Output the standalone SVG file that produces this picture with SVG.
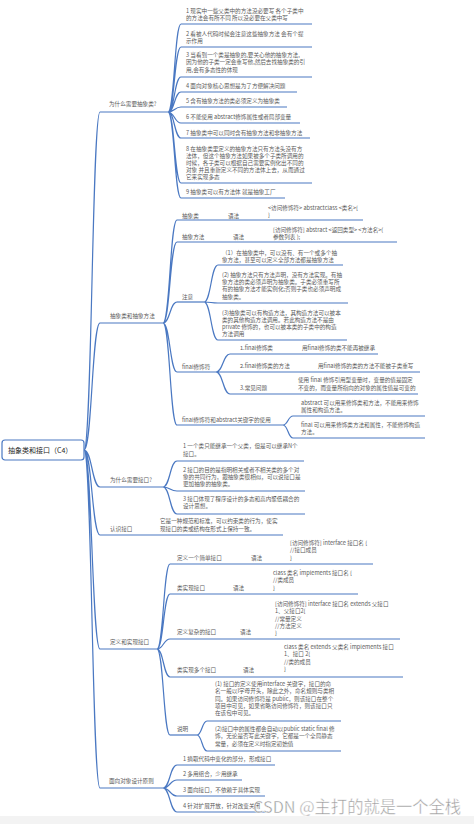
<svg xmlns="http://www.w3.org/2000/svg" width="474" height="824" viewBox="0 0 474 824">
<style>
text{font-family:"Noto Sans CJK SC","Noto Sans",sans-serif;font-size:5.6px;fill:#595959}
.root{font-size:7px;fill:#262626}
.ln{fill:none;stroke:#4a78c2;stroke-width:1.2}
.wm{font-family:"Noto Sans CJK SC","Noto Sans",sans-serif;font-size:16.5px;fill:#9b9b9b;stroke:#ffffff;stroke-width:0.4}
</style>
<rect x="0" y="0" width="474" height="824" fill="#ffffff"/>
<rect x="0" y="816" width="474" height="8" fill="#f3f3f3"/>
<g id="connectors" class="ln">
<path d="M84 450C92 450 92 112 100 112M84 450C92 450 92 323 100 323M84 450C92 450 92 487 100 487M84 450C92 450 92 535 100 535M84 450C92 450 92 649 100 649M84 450C92 450 92 788 100 788"/>
<path d="M168 112C174.5 112 174.5 24 181 24M168 112C174.5 112 174.5 47 181 47M168 112C174.5 112 174.5 77 181 77M168 112C174.5 112 174.5 92 181 92M168 112C174.5 112 174.5 107 181 107M168 112C174.5 112 174.5 123 181 123M168 112C174.5 112 174.5 138 181 138M168 112C174.5 112 174.5 183 181 183M168 112C174.5 112 174.5 198 181 198"/>
<path d="M163 323C170 323 170 220 177 220M163 323C170 323 170 242 177 242M163 323C170 323 170 302 177 302M163 323C170 323 170 372 177 372M163 323C170 323 170 425 177 425"/>
<path d="M204 302C211 302 211 265 218 265M204 302C211 302 211 303 218 303M204 302C211 302 211 340 218 340"/>
<path d="M216 372C223 372 223 354 230 354M216 372C223 372 223 372 230 372M216 372C223 372 223 394 230 394"/>
<path d="M283 425C288 425 288 416 293 416M283 425C288 425 288 438 293 438"/>
<path d="M163 487C170 487 170 461 177 461M163 487C170 487 170 491 177 491M163 487C170 487 170 514 177 514"/>
<path d="M157 649C163.5 649 163.5 564 170 564M157 649C163.5 649 163.5 594 170 594M157 649C163.5 649 163.5 639 170 639M157 649C163.5 649 163.5 677 170 677M157 649C163.5 649 163.5 735 170 735"/>
<path d="M197 735C202 735 202 721 207 721M197 735C202 735 202 751 207 751"/>
<path d="M163 788C170 788 170 765 177 765M163 788C170 788 170 780 177 780M163 788C170 788 170 796 177 796M163 788C170 788 170 812 177 812"/>
</g>
<g id="root"><rect x="2" y="440" width="82" height="20" rx="3" fill="#ffffff" stroke="#4a78c2" stroke-width="1.2"/><text class="root" x="8" y="453">抽象类和接口（C4）</text></g>
<g id="n-a"><path class="ln" d="M100 112H168"/><text x="109" y="106">为什么需要抽象类?</text></g>
<g id="n-a1"><path class="ln" d="M181 24H312"/><text x="186" y="13">1 现实中一些父类中的方法没必要写  各个子类中</text><text x="186" y="20">的方法会有所不同 所以没必要在父类中写</text></g>
<g id="n-a2"><path class="ln" d="M181 47H312"/><text x="186" y="36">2 看被人代码时候会注意这些抽象方法 会有个提</text><text x="186" y="43">示作用</text></g>
<g id="n-a3"><path class="ln" d="M181 77H312"/><text x="186" y="57">3 当看到一个类是抽象的,要关心他的抽象方法,</text><text x="186" y="64">因为他的子类一定会重写他,然后去找抽象类的引</text><text x="186" y="72">用,会有多态性的体现</text></g>
<g id="n-a4"><path class="ln" d="M181 92H297"/><text x="186" y="88">4 面向对象核心思想是为了方便解决问题</text></g>
<g id="n-a5"><path class="ln" d="M181 107H287"/><text x="186" y="103">5 含有抽象方法的类必须定义为抽象类</text></g>
<g id="n-a6"><path class="ln" d="M181 123H300"/><text x="186" y="119">6 不能使用 abstract修饰属性或者局部变量</text></g>
<g id="n-a7"><path class="ln" d="M181 138H310"/><text x="186" y="135">7 抽象类中可以同时含有抽象方法和非抽象方法</text></g>
<g id="n-a8"><path class="ln" d="M181 183H312"/><text x="186" y="151">8 在抽象类里定义的抽象方法只有方法头没有方</text><text x="186" y="158">法体，但这个抽象方法如果被多个子类所调用的</text><text x="186" y="165">时候，各子类可以根据自己需要实例化出不同的</text><text x="186" y="172">对象 并且重新定义不同的方法体上去，从而通过</text><text x="186" y="179">它来实现多态</text></g>
<g id="n-a9"><path class="ln" d="M181 198H285"/><text x="186" y="194">9 抽象类可以有方法体 就是抽象工厂</text></g>
<g id="n-b"><path class="ln" d="M100 323H163"/><text x="110" y="318">抽象类和抽象方法</text></g>
<g id="n-b1"><path class="ln" d="M177 220H363"/><text x="182" y="218">抽象类</text><text x="228" y="218">语法</text><text x="268" y="210">&lt;访问修饰符&gt; abstractclass &lt;类名&gt;{</text><text x="268" y="217">}</text></g>
<g id="n-b2"><path class="ln" d="M177 242H397"/><text x="182" y="239">抽象方法</text><text x="233" y="239">语法</text><text x="273" y="232">[访问修饰符] abstract &lt;返回类型&gt; &lt;方法名&gt;(</text><text x="273" y="239">参数列表 );</text></g>
<g id="n-b3"><path class="ln" d="M177 302H204"/><text x="182" y="299">注意</text></g>
<g id="n-b3a"><path class="ln" d="M218 265H343"/><text x="222" y="255">（1）在抽象类中，可以没有、有一个或多个抽</text><text x="222" y="262">象方法，甚至可以定义全部方法都是抽象方法</text></g>
<g id="n-b3b"><path class="ln" d="M218 303H348"/><text x="222" y="277">(2) 抽象方法只有方法声明，没有方法实现。有抽</text><text x="222" y="284">象方法的类必须声明为抽象类。子类必须重写所</text><text x="222" y="291">有的抽象方法才能实例化;否则子类也必须声明成</text><text x="222" y="299">抽象类。</text></g>
<g id="n-b3c"><path class="ln" d="M218 340H347"/><text x="222" y="315">(3)抽象类可以有构造方法，其构造方法可以被本</text><text x="222" y="322">类的其他构造方法调用。若此构造方法不是由</text><text x="222" y="329">private 修饰的，也可以被本类的子类中的构造</text><text x="222" y="336">方法调用</text></g>
<g id="n-b4"><path class="ln" d="M177 372H216"/><text x="182" y="369">final修饰符</text></g>
<g id="n-b4a"><path class="ln" d="M230 354H378"/><text x="240" y="350">1.final修饰类</text><text x="302" y="350">用final修饰的类不能再被继承</text></g>
<g id="n-b4b"><path class="ln" d="M230 372H420"/><text x="240" y="368">2.final修饰类的方法</text><text x="318" y="368">用final修饰的类的方法不能被子类重写</text></g>
<g id="n-b4c"><path class="ln" d="M230 394H418"/><text x="240" y="390">3.常见问题</text><text x="298" y="382">使用 final 修饰引用型变量时，变量的值是固定</text><text x="298" y="390">不变的，而变量所指向的对象的属性值是可变的</text></g>
<g id="n-b5"><path class="ln" d="M177 425H283"/><text x="182" y="422">final修饰符和abstract关键字的使用</text></g>
<g id="n-b5a"><path class="ln" d="M293 416H425"/><text x="301" y="405">abstract 可以用来修饰类和方法，不能用来修饰</text><text x="301" y="412">属性和构造方法。</text></g>
<g id="n-b5b"><path class="ln" d="M293 438H425"/><text x="301" y="427">final 可以用来修饰类方法和属性，不能修饰构造</text><text x="301" y="434">方法。</text></g>
<g id="n-c"><path class="ln" d="M100 487H163"/><text x="110" y="482">为什么需要接口?</text></g>
<g id="n-c1"><path class="ln" d="M177 461H304"/><text x="183" y="448">1 一个类只能继承一个父类，但是可以继承N个</text><text x="183" y="456">接口。</text></g>
<g id="n-c2"><path class="ln" d="M177 491H305"/><text x="183" y="472">2 接口的目的是指明相关或者不相关类的多个对</text><text x="183" y="479">象的共同行为，跟抽象类很相似，可以说接口是</text><text x="183" y="486">更加抽象的抽象类。</text></g>
<g id="n-c3"><path class="ln" d="M177 514H305"/><text x="183" y="501">3 接口体现了程序设计的多态和高内聚低耦合的</text><text x="183" y="508">设计思想。</text></g>
<g id="n-d"><path class="ln" d="M100 535H283"/><text x="110" y="531">认识接口</text><text x="160" y="523">它是一种规范和标准，可以约束类的行为，使实</text><text x="160" y="531">现接口的类或结构在形式上保持一致。</text></g>
<g id="n-e"><path class="ln" d="M100 649H157"/><text x="110" y="644">定义和实现接口</text></g>
<g id="n-e1"><path class="ln" d="M170 564H373"/><text x="177" y="560">定义一个简单接口</text><text x="251" y="560">语法</text><text x="290" y="545">[访问修饰符] interface 接口名 {</text><text x="290" y="552">//接口成员</text><text x="290" y="560">}</text></g>
<g id="n-e2"><path class="ln" d="M170 594H358"/><text x="177" y="590">类实现接口</text><text x="233" y="590">语法</text><text x="273" y="575">class 类名 implements 接口名 {</text><text x="273" y="582">//类成员</text><text x="273" y="590">}</text></g>
<g id="n-e3"><path class="ln" d="M170 639H400"/><text x="177" y="634">定义复杂的接口</text><text x="240" y="634">语法</text><text x="275" y="606">[访问修饰符] interface 接口名 extends 父接口</text><text x="275" y="613">1、父接口2{</text><text x="275" y="621">//常量定义</text><text x="275" y="628">//方法定义</text><text x="275" y="635">}</text></g>
<g id="n-e4"><path class="ln" d="M170 677H403"/><text x="177" y="672">类实现多个接口</text><text x="243" y="672">语法</text><text x="284" y="649">class 类名 extends 父类名 implements 接口</text><text x="284" y="656">1、接口 2{</text><text x="284" y="664">//类的成员</text><text x="284" y="671">}</text></g>
<g id="n-e5"><path class="ln" d="M170 735H197"/><text x="177" y="731">说明</text></g>
<g id="n-e5a"><path class="ln" d="M207 721H341"/><text x="215" y="686">(1) 接口的定义使用interface 关键字，接口的命</text><text x="215" y="693">名一般以I字母开头，除此之外，命名规则与类相</text><text x="215" y="701">同。如果访问修饰符是 public，则该接口在整个</text><text x="215" y="708">项目中可见，如果省略访问修饰符，则该接口只</text><text x="215" y="715">在该包中可见。</text></g>
<g id="n-e5b"><path class="ln" d="M207 751H341"/><text x="215" y="731">(2)接口中的属性都会自动以public static final 修</text><text x="215" y="738">饰，无论是否写此关键字，它都是一个全局静态</text><text x="215" y="746">常量，必须在定义时指定初始值</text></g>
<g id="n-f"><path class="ln" d="M100 788H163"/><text x="109" y="783">面向对象设计原则</text></g>
<g id="n-f1"><path class="ln" d="M177 765H275"/><text x="183" y="761">1 摘取代码中变化的部分，形成接口</text></g>
<g id="n-f2"><path class="ln" d="M177 780H242"/><text x="183" y="776">2 多用组合，少用继承</text></g>
<g id="n-f3"><path class="ln" d="M177 796H265"/><text x="183" y="792">3 面向接口，不依赖于具体实现</text></g>
<g id="n-f4"><path class="ln" d="M177 812H268"/><text x="183" y="808">4 针对扩展开放，针对改变关闭</text></g>
<text class="wm" x="253" y="813" textLength="208" lengthAdjust="spacingAndGlyphs">CSDN @主打的就是一个全栈</text>
</svg>
